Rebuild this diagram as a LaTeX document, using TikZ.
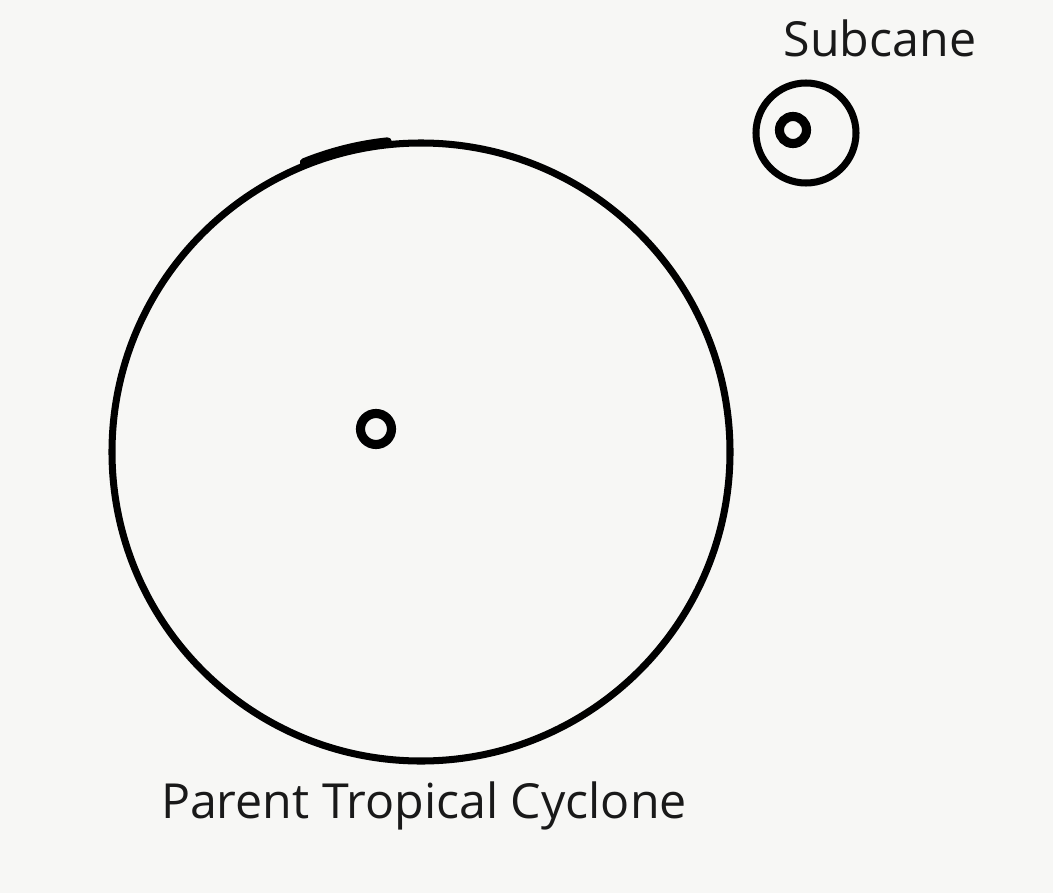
\documentclass[tikz,border=0pt]{standalone}
\usepackage{fontspec}
\setmainfont{Open Sans}

\definecolor{paper}{HTML}{F7F7F5}

\tikzset{
  storm/.style={draw=black, line width=4pt, circle, inner sep=0pt},
  eye/.style={draw=black, line width=5.2pt, circle, inner sep=0pt},
  caption/.style={font=\fontsize{27.5}{32}\selectfont, text=black!90}
}

\begin{document}
\begin{tikzpicture}[x=0.2mm, y=-0.2mm]

\useasboundingbox (0,0) rectangle (1053,893);
\fill[paper] (0,0) rectangle (1053,893);

% parent cyclone
\node[storm, minimum size=123.6mm] (parent) at (421,452) {};
\draw[line width=4.6pt, line cap=round] (parent.112) arc[start angle=112, end angle=96, radius=62mm];
\node[eye, minimum size=6.2mm] (parenteye) at (376,429) {};
\node[caption] (parentlabel) at (424,806) {Parent Tropical Cyclone};

% subcane
\node[storm, minimum size=20mm] (sub) at (806,133) {};
\node[eye, minimum size=5.4mm] (subeye) at (793,130) {};
\node[caption] (sublabel) at (880,38) {Subcane};

\end{tikzpicture}
\end{document}
